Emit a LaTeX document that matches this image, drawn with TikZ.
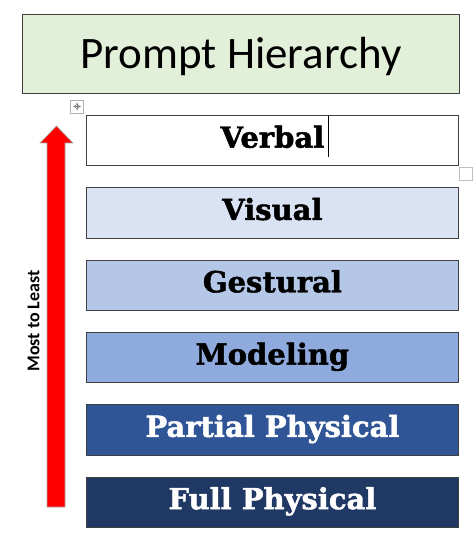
\documentclass[tikz,border=0pt]{standalone}
\usepackage{fontspec}
\setmainfont{Carlito}
\newfontfamily\slabfont[FakeBold=1.6]{DejaVu Serif Bold}
\usepackage{tikz}
\usetikzlibrary{positioning}
\definecolor{titlegreen}{HTML}{E2EFD9}
\definecolor{levelA}{HTML}{DAE3F3}
\definecolor{levelB}{HTML}{B4C7E7}
\definecolor{levelC}{HTML}{8FAADC}
\definecolor{levelD}{HTML}{2F5597}
\definecolor{levelE}{HTML}{203864}
\definecolor{boxline}{HTML}{404040}
\tikzset{
	titlebox/.style={draw=boxline, fill=titlegreen, line width=0.8pt, minimum width=437pt, minimum height=79pt, inner sep=0pt, text height=29pt, text depth=0pt, font=\fontsize{45}{50}\selectfont}, % the heading
	levelbox/.style={draw=boxline, line width=0.8pt, minimum width=372pt, minimum height=50.5pt, inner sep=0pt, text height=21pt, text depth=7pt, font=\slabfont\fontsize{29}{32}\selectfont}, % one prompt level
	node distance=21pt, % gap between two levels
}
\begin{document}
\begin{tikzpicture}[x=1pt,y=-1pt]
	\useasboundingbox (0,0) rectangle (474,537);
	\node[titlebox, anchor=north west] (title) at (22,14) {Prompt Hierarchy};
	\node[levelbox, fill=white, anchor=north west] (verbal) at (86,115) {Verbal};
	\node[levelbox, fill=levelA] (visual) [below=of verbal] {Visual};
	\node[levelbox, fill=levelB] (gestural) [below=of visual] {Gestural};
	\node[levelbox, fill=levelC] (modeling) [below=of gestural] {Modeling};
	\node[levelbox, fill=levelD, text=white] (partial) [below=of modeling] {Partial Physical};
	\node[levelbox, fill=levelE, text=white] (full) [below=of partial] {Full Physical};
	% the block arrow
	\filldraw[fill=red, draw=gray!70, line width=0.6pt]
		(47,507) -- (47,143) -- (40,143) -- (56.5,126) -- (73,143) -- (65,143) -- (65,507) -- cycle;
	\node[rotate=90, font=\bfseries\fontsize{18}{20}\selectfont] (most) at (33.5,321) {Most to Least};
	% editor marks
	\node[draw=gray!60, minimum size=13pt, inner sep=0pt] (move) at (77,106.5) {};
	\draw[gray, <->, >=stealth, line width=0.4pt] (move.center) ++(-4,0) -- ++(8,0);
	\draw[gray, <->, >=stealth, line width=0.4pt] (move.center) ++(0,-4) -- ++(0,8);
	\node[draw=gray!50, minimum size=13pt, inner sep=0pt] (corner) at (466,174) {};
	\draw[black, line width=0.6pt] (verbal.north east) ++(-131,1) coordinate (cursortop) -- ++(0,41);
\end{tikzpicture}
\end{document}
